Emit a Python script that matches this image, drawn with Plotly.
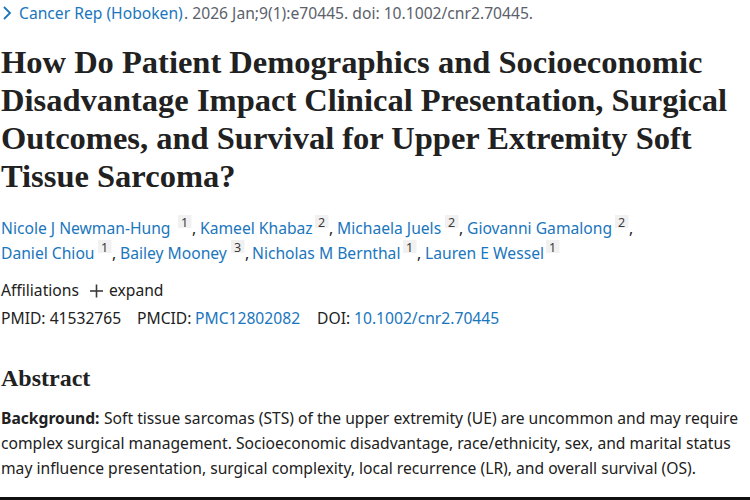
"""
PubMed article header rebuilt as a Plotly figure, text placed on a pixel grid
"""

import plotly.graph_objects as go

BLUE = '#0071bc'
LINK = '#1a76bd'
INK = '#212121'
GREY = '#5b616b'
TITLE_INK = '#212121'
BADGE = '#f1f1f1'

SANS = 'Noto Sans'
SERIF = 'Liberation Serif'
BODY_SIZE = 15.65

# x, y centre, text, colour
JOURNAL = [
    (19, 13, 'Cancer Rep (Hoboken)', LINK),
    (184, 13, '. 2026 Jan;9(1):e70445. doi: 10.1002/cnr2.70445.', GREY),
]

TITLE_LINES = [
    'How Do Patient Demographics and Socioeconomic',
    'Disadvantage Impact Clinical Presentation, Surgical',
    'Outcomes, and Survival for Upper Extremity Soft',
    'Tissue Sarcoma?',
]
TITLE_Y = [62, 100, 138, 176]

AUTHORS = [
    (1, 228, 'Nicole J Newman-Hung', '1', 178),
    (200, 228, 'Kameel Khabaz', '2', 315),
    (337, 228, 'Michaela Juels', '2', 445),
    (467, 228, 'Giovanni Gamalong', '2', 615),
    (1, 253, 'Daniel Chiou', '1', 98),
    (120, 253, 'Bailey Mooney', '3', 231),
    (252, 253, 'Nicholas M Bernthal', '1', 403),
    (425, 253, 'Lauren E Wessel', '1', 546),
]

IDS = [
    (1, 290, 'Affiliations', INK),
    (109, 290, 'expand', INK),
    (1, 318, 'PMID: 41532765', INK),
    (137, 318, 'PMCID:', INK),
    (195, 318, 'PMC12802082', LINK),
    (317, 318, 'DOI:', INK),
    (354, 318, '10.1002/cnr2.70445', LINK),
]

ABSTRACT_LINES = [
    (104, 418, 'Soft tissue sarcomas (STS) of the upper extremity (UE) are uncommon and may require'),
    (1, 443, 'complex surgical management. Socioeconomic disadvantage, race/ethnicity, sex, and marital status'),
    (1, 468, 'may influence presentation, surgical complexity, local recurrence (LR), and overall survival (OS).'),
]


def add_text(fig, x, y, text, color=INK, size=BODY_SIZE, family=SANS, anchor='left'):
    fig.add_annotation(x=x, y=y, text=text, showarrow=False, xanchor=anchor, yanchor='middle',
                       xref='x', yref='y', borderpad=0, borderwidth=0,
                       font=dict(family=family, size=size, color=color))


fig = go.Figure()

# Journal line
for x, y, text, color in JOURNAL:
    add_text(fig, x, y, text, color)
fig.add_shape(type='path', path='M 4 7 L 10 13 L 4 19', line=dict(color=LINK, width=1.8))

# Title
for text, y in zip(TITLE_LINES, TITLE_Y):
    add_text(fig, 1, y, f'<b>{text}</b>', TITLE_INK, 32.5, SERIF)

# Authors with their affiliation badges
for x, y, name, ref, badge_x in AUTHORS:
    add_text(fig, x, y, name, LINK)
    fig.add_shape(type='rect', x0=badge_x, x1=badge_x + 13.5, y0=y - 13, y1=y,
                  fillcolor=BADGE, line=dict(width=0), layer='below')
    add_text(fig, badge_x + 6.75, y - 6, ref, '#3a3a3a', 12.5, anchor='center')
    if name != 'Lauren E Wessel':
        add_text(fig, badge_x + 13.5, y, ',', INK)

# Affiliations and identifiers
for x, y, text, color in IDS:
    add_text(fig, x, y, text, color)
fig.add_shape(type='line', x0=90, x1=103, y0=291, y1=291, line=dict(color='#3a3a3a', width=1.6))
fig.add_shape(type='line', x0=96.5, x1=96.5, y0=284.5, y1=297.5, line=dict(color='#3a3a3a', width=1.6))

# Abstract
add_text(fig, 1, 378, '<b>Abstract</b>', TITLE_INK, 24, SERIF)
add_text(fig, 1, 418, '<b>Background:</b>', INK)
for x, y, text in ABSTRACT_LINES:
    add_text(fig, x, y, text, INK)

# Dark rule along the bottom edge of the window
fig.add_shape(type='rect', x0=0, x1=750, y0=497, y1=500, fillcolor='#111111', line=dict(width=0))

fig.update_layout(
    width=750, height=500,
    margin=dict(l=0, r=0, t=0, b=0),
    paper_bgcolor='white', plot_bgcolor='white',
    showlegend=False,
    xaxis=dict(range=[0, 750], visible=False, fixedrange=True),
    yaxis=dict(range=[500, 0], visible=False, fixedrange=True),
)

fig.write_html("out.html", post_script="document.body.style.margin='0';", config={'displayModeBar': False})
